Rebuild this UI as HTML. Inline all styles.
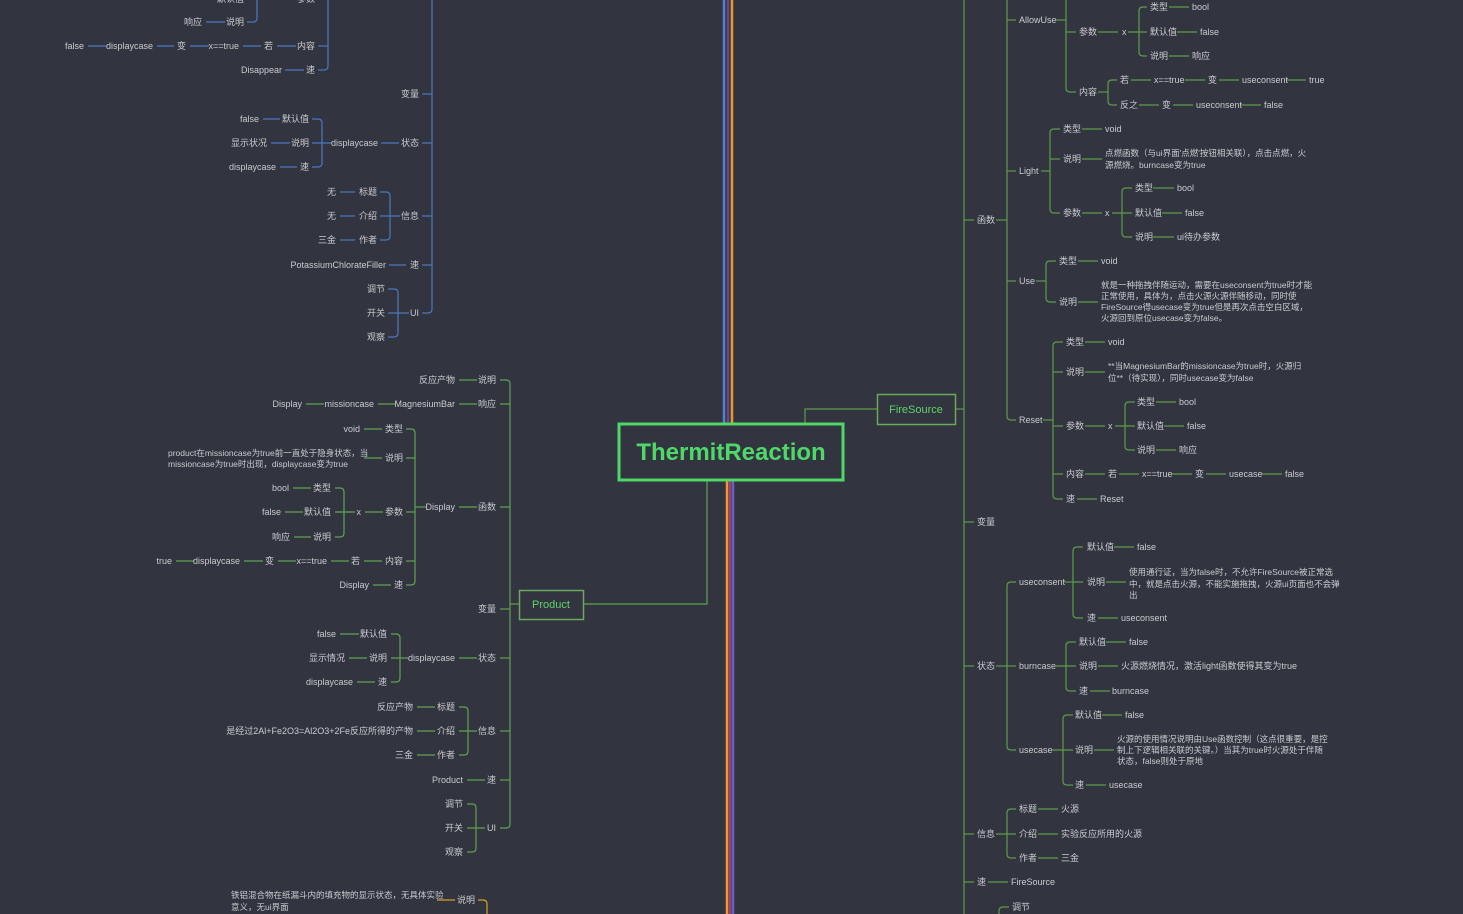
<!DOCTYPE html>
<html><head><meta charset="utf-8"><style>
html,body{margin:0;padding:0;background:#32353f;width:1463px;height:914px;overflow:hidden}
svg{display:block}
text{font-family:"Liberation Sans","Noto Sans CJK SC",sans-serif;font-size:9px;fill:#c9cbcf}
.e{text-anchor:end}
.b{fill:none;stroke:#4a78c0;stroke-width:1.2}
.g{fill:none;stroke:#5ea34f;stroke-width:1.2}
.r{fill:none;stroke:#5c9c48;stroke-width:1.2}
.o{fill:none;stroke:#d4a12a;stroke-width:1.2}
</style></head><body>
<svg width="1463" height="914" viewBox="0 0 1463 914" xmlns="http://www.w3.org/2000/svg">
<!-- center lines -->
<line x1="724" y1="0" x2="724" y2="423" stroke="#5b7fd0" stroke-width="2.5"/>
<line x1="728" y1="0" x2="728" y2="423" stroke="#5e4a90" stroke-width="2.5"/>
<line x1="732" y1="0" x2="732" y2="423" stroke="#f0962a" stroke-width="2.5"/>
<line x1="727" y1="480" x2="727" y2="914" stroke="#f0962a" stroke-width="2.5"/>
<line x1="730" y1="480" x2="730" y2="914" stroke="#9a3f7a" stroke-width="2.5"/>
<line x1="733" y1="480" x2="733" y2="914" stroke="#6a5fc8" stroke-width="2.5"/>

<!-- ===== BLUE (left top) ===== -->
<g class="b">
<path d="M257,-20 V18 Q257,22 253,22 H247"/>
<line x1="206" y1="22" x2="225" y2="22"/>
<path d="M328,-20 V66 Q328,70 324,70 H318"/>
<line x1="318" y1="46" x2="328" y2="46"/><line x1="318" y1="-1" x2="328" y2="-1"/>
<line x1="88" y1="46" x2="106" y2="46"/><line x1="157" y1="46" x2="174" y2="46"/><line x1="190" y1="46" x2="209" y2="46"/><line x1="243" y1="46" x2="261" y2="46"/><line x1="277" y1="46" x2="296" y2="46"/>
<line x1="285" y1="70" x2="304" y2="70"/>
<path d="M432,-20 V309 Q432,313 428,313 H422"/>
<line x1="422" y1="94" x2="432" y2="94"/><line x1="422" y1="143" x2="432" y2="143"/><line x1="422" y1="216" x2="432" y2="216"/><line x1="422" y1="265" x2="432" y2="265"/>
<path d="M312,119 H318 Q322,119 322,123 V163 Q322,167 318,167 H312"/>
<line x1="312" y1="143" x2="332" y2="143"/><line x1="381" y1="143" x2="399" y2="143"/>
<line x1="263" y1="119" x2="280" y2="119"/><line x1="271" y1="143" x2="290" y2="143"/><line x1="280" y1="167" x2="297" y2="167"/>
<path d="M380,192 H386 Q390,192 390,196 V236 Q390,240 386,240 H380"/>
<line x1="380" y1="216" x2="400" y2="216"/>
<line x1="340" y1="192" x2="355" y2="192"/><line x1="340" y1="216" x2="355" y2="216"/><line x1="340" y1="240" x2="355" y2="240"/>
<line x1="389" y1="265" x2="406" y2="265"/>
<path d="M388,289 H394 Q398,289 398,293 V333 Q398,337 394,337 H388"/>
<line x1="388" y1="313" x2="409" y2="313"/>
</g>
<text class="e" x="244" y="2">默认值</text><text class="e" x="315" y="2">参数</text>
<text class="e" x="202" y="25">响应</text><text class="e" x="244" y="25">说明</text>
<text class="e" x="84" y="49">false</text><text class="e" x="153" y="49">displaycase</text><text class="e" x="186" y="49">变</text><text class="e" x="239" y="49">x==true</text><text class="e" x="273" y="49">若</text><text class="e" x="315" y="49">内容</text>
<text class="e" x="282" y="73">Disappear</text><text class="e" x="315" y="73">速</text>
<text class="e" x="419" y="97">变量</text>
<text class="e" x="259" y="122">false</text><text class="e" x="309" y="122">默认值</text>
<text class="e" x="267" y="146">显示状况</text><text class="e" x="309" y="146">说明</text><text class="e" x="378" y="146">displaycase</text><text class="e" x="419" y="146">状态</text>
<text class="e" x="276" y="170">displaycase</text><text class="e" x="309" y="170">速</text>
<text class="e" x="336" y="195">无</text><text class="e" x="377" y="195">标题</text>
<text class="e" x="336" y="219">无</text><text class="e" x="377" y="219">介绍</text><text class="e" x="419" y="219">信息</text>
<text class="e" x="336" y="243">三金</text><text class="e" x="377" y="243">作者</text>
<text class="e" x="386" y="268">PotassiumChlorateFiller</text><text class="e" x="419" y="268">速</text>
<text class="e" x="385" y="292">调节</text><text class="e" x="385" y="316">开关</text><text class="e" x="419" y="316">UI</text><text class="e" x="385" y="340">观察</text>

<!-- ===== GREEN product ===== -->
<g class="g">
<path d="M500,380 H506 Q510,380 510,384 V824 Q510,828 506,828 H500"/>
<line x1="500" y1="404" x2="510" y2="404"/><line x1="500" y1="507" x2="510" y2="507"/><line x1="500" y1="609" x2="510" y2="609"/><line x1="500" y1="658" x2="510" y2="658"/><line x1="500" y1="731" x2="510" y2="731"/><line x1="500" y1="780" x2="510" y2="780"/>
<line x1="510" y1="604" x2="519" y2="604"/>
<path d="M583,604 H707 V481"/>
<line x1="459" y1="380" x2="477" y2="380"/>
<line x1="306" y1="404" x2="324" y2="404"/><line x1="378" y1="404" x2="396" y2="404"/><line x1="459" y1="404" x2="477" y2="404"/>
<line x1="459" y1="507" x2="477" y2="507"/><line x1="415" y1="507" x2="427" y2="507"/>
<path d="M406,429 H411 Q415,429 415,433 V581 Q415,585 411,585 H406"/>
<line x1="406" y1="458" x2="415" y2="458"/><line x1="406" y1="512" x2="415" y2="512"/><line x1="406" y1="561" x2="415" y2="561"/>
<line x1="364" y1="429" x2="382" y2="429"/><line x1="364" y1="458" x2="382" y2="458"/>
<path d="M335,488 H340 Q344,488 344,492 V533 Q344,537 340,537 H335"/>
<line x1="335" y1="512" x2="355" y2="512"/><line x1="365" y1="512" x2="383" y2="512"/>
<line x1="293" y1="488" x2="311" y2="488"/><line x1="285" y1="512" x2="303" y2="512"/><line x1="294" y1="537" x2="311" y2="537"/>
<line x1="176" y1="561" x2="194" y2="561"/><line x1="244" y1="561" x2="263" y2="561"/><line x1="278" y1="561" x2="296" y2="561"/><line x1="331" y1="561" x2="349" y2="561"/><line x1="364" y1="561" x2="382" y2="561"/>
<line x1="373" y1="585" x2="391" y2="585"/>
<path d="M391,634 H396 Q400,634 400,638 V678 Q400,682 396,682 H391"/>
<line x1="391" y1="658" x2="408" y2="658"/><line x1="459" y1="658" x2="477" y2="658"/>
<line x1="340" y1="634" x2="359" y2="634"/><line x1="349" y1="658" x2="367" y2="658"/><line x1="357" y1="682" x2="375" y2="682"/>
<path d="M459,707 H464 Q468,707 468,711 V751 Q468,755 464,755 H459"/>
<line x1="459" y1="731" x2="477" y2="731"/>
<line x1="417" y1="707" x2="435" y2="707"/><line x1="417" y1="731" x2="435" y2="731"/><line x1="417" y1="755" x2="435" y2="755"/>
<line x1="467" y1="780" x2="485" y2="780"/>
<path d="M467,804 H472 Q476,804 476,808 V848 Q476,852 472,852 H467"/>
<line x1="467" y1="828" x2="485" y2="828"/>
</g>
<text class="e" x="455" y="383">反应产物</text><text class="e" x="496" y="383">说明</text>
<text class="e" x="302" y="407">Display</text><text class="e" x="374" y="407">missioncase</text><text class="e" x="455" y="407">MagnesiumBar</text><text class="e" x="496" y="407">响应</text>
<text class="e" x="360" y="432">void</text><text class="e" x="403" y="432">类型</text>
<text x="168" y="456" style="font-size:8.5px">product在missioncase为true前一直处于隐身状态，当</text>
<text x="168" y="467" style="font-size:8.5px">missioncase为true时出现，displaycase变为true</text>
<text class="e" x="403" y="461">说明</text>
<text class="e" x="289" y="491">bool</text><text class="e" x="331" y="491">类型</text>
<text class="e" x="281" y="515">false</text><text class="e" x="331" y="515">默认值</text><text class="e" x="361" y="515">x</text><text class="e" x="403" y="515">参数</text>
<text class="e" x="455" y="510">Display</text><text class="e" x="496" y="510">函数</text>
<text class="e" x="290" y="540">响应</text><text class="e" x="331" y="540">说明</text>
<text class="e" x="172" y="564">true</text><text class="e" x="240" y="564">displaycase</text><text class="e" x="274" y="564">变</text><text class="e" x="327" y="564">x==true</text><text class="e" x="360" y="564">若</text><text class="e" x="403" y="564">内容</text>
<text class="e" x="369" y="588">Display</text><text class="e" x="403" y="588">速</text>
<text class="e" x="496" y="612">变量</text>
<text class="e" x="336" y="637">false</text><text class="e" x="387" y="637">默认值</text>
<text class="e" x="345" y="661">显示情况</text><text class="e" x="387" y="661">说明</text><text class="e" x="455" y="661">displaycase</text><text class="e" x="496" y="661">状态</text>
<text class="e" x="353" y="685">displaycase</text><text class="e" x="387" y="685">速</text>
<text class="e" x="413" y="710">反应产物</text><text class="e" x="455" y="710">标题</text>
<text class="e" x="413" y="734">是经过2Al+Fe2O3=Al2O3+2Fe反应所得的产物</text><text class="e" x="455" y="734">介绍</text><text class="e" x="496" y="734">信息</text>
<text class="e" x="413" y="758">三金</text><text class="e" x="455" y="758">作者</text>
<text class="e" x="463" y="783">Product</text><text class="e" x="496" y="783">速</text>
<text class="e" x="463" y="807">调节</text><text class="e" x="463" y="831">开关</text><text class="e" x="496" y="831">UI</text><text class="e" x="463" y="855">观察</text>

<!-- orange -->
<g class="o"><line x1="437" y1="900" x2="455" y2="900"/><path d="M478,900 H483 Q487,900 487,904 V920"/></g>
<text x="231" y="898" style="font-size:8.5px">铁铝混合物在纸漏斗内的填充物的显示状态，无具体实验</text>
<text x="231" y="910" style="font-size:8.5px">意义，无ui界面</text>
<text class="e" x="475" y="903">说明</text>

<!-- ===== RIGHT green ===== -->
<g class="r">
<path d="M805,423 V409 H877"/>
<line x1="955" y1="409" x2="964" y2="409"/>
<line x1="964" y1="-10" x2="964" y2="920"/>
<line x1="964" y1="220" x2="974" y2="220"/><line x1="964" y1="522" x2="974" y2="522"/><line x1="964" y1="666" x2="974" y2="666"/><line x1="964" y1="834" x2="974" y2="834"/><line x1="964" y1="882" x2="974" y2="882"/>
<line x1="996" y1="220" x2="1007" y2="220"/>
<path d="M1007,-20 V416 Q1007,420 1011,420 H1016"/>
<line x1="1007" y1="20" x2="1016" y2="20"/><line x1="1007" y1="171" x2="1016" y2="171"/><line x1="1007" y1="281" x2="1016" y2="281"/>
<line x1="1056" y1="20" x2="1066" y2="20"/>
<path d="M1066,-20 V88 Q1066,92 1070,92 H1076"/>
<line x1="1066" y1="32" x2="1076" y2="32"/>
<line x1="1098" y1="32" x2="1118" y2="32"/><line x1="1128" y1="32" x2="1147" y2="32"/>
<path d="M1147,7 H1143 Q1139,7 1139,11 V52 Q1139,56 1143,56 H1147"/>
<line x1="1169" y1="7" x2="1189" y2="7"/><line x1="1177" y1="32" x2="1197" y2="32"/><line x1="1169" y1="56" x2="1189" y2="56"/>
<line x1="1098" y1="92" x2="1108" y2="92"/>
<path d="M1117,80 H1112 Q1108,80 1108,84 V101 Q1108,105 1112,105 H1117"/>
<line x1="1131" y1="80" x2="1151" y2="80"/><line x1="1185" y1="80" x2="1205" y2="80"/><line x1="1219" y1="80" x2="1239" y2="80"/><line x1="1286" y1="80" x2="1306" y2="80"/>
<line x1="1139" y1="105" x2="1159" y2="105"/><line x1="1173" y1="105" x2="1193" y2="105"/><line x1="1240" y1="105" x2="1261" y2="105"/>
<line x1="1041" y1="171" x2="1050" y2="171"/>
<path d="M1060,129 H1054 Q1050,129 1050,133 V209 Q1050,213 1054,213 H1060"/>
<line x1="1050" y1="159" x2="1060" y2="159"/>
<line x1="1082" y1="129" x2="1102" y2="129"/><line x1="1082" y1="159" x2="1102" y2="159"/><line x1="1082" y1="213" x2="1102" y2="213"/>
<line x1="1112" y1="213" x2="1132" y2="213"/>
<path d="M1132,188 H1126 Q1122,188 1122,192 V233 Q1122,237 1126,237 H1132"/>
<line x1="1153" y1="188" x2="1174" y2="188"/><line x1="1162" y1="213" x2="1182" y2="213"/><line x1="1153" y1="237" x2="1174" y2="237"/>
<line x1="1036" y1="281" x2="1046" y2="281"/>
<path d="M1056,261 H1050 Q1046,261 1046,265 V298 Q1046,302 1050,302 H1056"/>
<line x1="1078" y1="261" x2="1098" y2="261"/><line x1="1078" y1="302" x2="1098" y2="302"/>
<line x1="1043" y1="420" x2="1053" y2="420"/>
<path d="M1063,342 H1057 Q1053,342 1053,346 V495 Q1053,499 1057,499 H1063"/>
<line x1="1053" y1="372" x2="1063" y2="372"/><line x1="1053" y1="426" x2="1063" y2="426"/><line x1="1053" y1="474" x2="1063" y2="474"/>
<line x1="1085" y1="342" x2="1105" y2="342"/><line x1="1085" y1="372" x2="1105" y2="372"/><line x1="1085" y1="426" x2="1105" y2="426"/>
<line x1="1115" y1="426" x2="1135" y2="426"/>
<path d="M1135,402 H1129 Q1125,402 1125,406 V446 Q1125,450 1129,450 H1135"/>
<line x1="1156" y1="402" x2="1176" y2="402"/><line x1="1164" y1="426" x2="1184" y2="426"/><line x1="1156" y1="450" x2="1176" y2="450"/>
<line x1="1085" y1="474" x2="1105" y2="474"/><line x1="1119" y1="474" x2="1139" y2="474"/><line x1="1172" y1="474" x2="1192" y2="474"/><line x1="1206" y1="474" x2="1226" y2="474"/><line x1="1262" y1="474" x2="1282" y2="474"/>
<line x1="1077" y1="499" x2="1097" y2="499"/>
<line x1="996" y1="666" x2="1007" y2="666"/>
<path d="M1016,582 H1011 Q1007,582 1007,586 V746 Q1007,750 1011,750 H1016"/>
<line x1="1007" y1="666" x2="1016" y2="666"/>
<line x1="1064" y1="582" x2="1073" y2="582"/>
<path d="M1083,547 H1077 Q1073,547 1073,551 V614 Q1073,618 1077,618 H1083"/>
<line x1="1073" y1="582" x2="1083" y2="582"/>
<line x1="1114" y1="547" x2="1134" y2="547"/><line x1="1106" y1="582" x2="1126" y2="582"/><line x1="1098" y1="618" x2="1118" y2="618"/>
<line x1="1056" y1="666" x2="1076" y2="666"/>
<path d="M1076,642 H1070 Q1066,642 1066,646 V687 Q1066,691 1070,691 H1076"/>
<line x1="1106" y1="642" x2="1126" y2="642"/><line x1="1098" y1="666" x2="1118" y2="666"/><line x1="1090" y1="691" x2="1110" y2="691"/>
<line x1="1052" y1="750" x2="1073" y2="750"/>
<path d="M1073,715 H1067 Q1063,715 1063,719 V781 Q1063,785 1067,785 H1073"/>
<line x1="1102" y1="715" x2="1122" y2="715"/><line x1="1094" y1="750" x2="1114" y2="750"/><line x1="1086" y1="785" x2="1106" y2="785"/>
<line x1="996" y1="834" x2="1016" y2="834"/>
<path d="M1016,809 H1011 Q1007,809 1007,813 V854 Q1007,858 1011,858 H1016"/>
<line x1="1038" y1="809" x2="1058" y2="809"/><line x1="1038" y1="834" x2="1058" y2="834"/><line x1="1038" y1="858" x2="1058" y2="858"/>
<line x1="988" y1="882" x2="1008" y2="882"/>
<path d="M1009,907 H1003 Q999,907 999,911 V920"/>
</g>
<text x="1019" y="23">AllowUse</text>
<text x="1079" y="35">参数</text><text x="1122" y="35">x</text>
<text x="1150" y="10">类型</text><text x="1192" y="10">bool</text>
<text x="1150" y="35">默认值</text><text x="1200" y="35">false</text>
<text x="1150" y="59">说明</text><text x="1192" y="59">响应</text>
<text x="1079" y="95">内容</text>
<text x="1120" y="83">若</text><text x="1154" y="83">x==true</text><text x="1208" y="83">变</text><text x="1242" y="83">useconsent</text><text x="1309" y="83">true</text>
<text x="1120" y="108">反之</text><text x="1162" y="108">变</text><text x="1196" y="108">useconsent</text><text x="1264" y="108">false</text>
<text x="1019" y="174">Light</text>
<text x="1063" y="132">类型</text><text x="1105" y="132">void</text>
<text x="1063" y="162">说明</text>
<text x="1105" y="156" style="font-size:8.5px">点燃函数（与ui界面'点燃'按钮相关联），点击点燃，火</text>
<text x="1105" y="168" style="font-size:8.5px">源燃烧。burncase变为true</text>
<text x="1063" y="216">参数</text><text x="1105" y="216">x</text>
<text x="1135" y="191">类型</text><text x="1177" y="191">bool</text>
<text x="1135" y="216">默认值</text><text x="1185" y="216">false</text>
<text x="1135" y="240">说明</text><text x="1177" y="240">ui待办参数</text>
<text x="977" y="223">函数</text>
<text x="1019" y="284">Use</text>
<text x="1059" y="264">类型</text><text x="1101" y="264">void</text>
<text x="1059" y="305">说明</text>
<text x="1101" y="288" style="font-size:8.5px">就是一种拖拽伴随运动，需要在useconsent为true时才能</text>
<text x="1101" y="299" style="font-size:8.5px">正常使用，具体为，点击火源火源伴随移动，同时使</text>
<text x="1101" y="310" style="font-size:8.5px">FireSource得usecase变为true但是再次点击空白区域，</text>
<text x="1101" y="321" style="font-size:8.5px">火源回到原位usecase变为false。</text>
<text x="1066" y="345">类型</text><text x="1108" y="345">void</text>
<text x="1066" y="375">说明</text>
<text x="1108" y="369" style="font-size:8.5px">**当MagnesiumBar的missioncase为true时，火源归</text>
<text x="1108" y="381" style="font-size:8.5px">位**（待实现），同时usecase变为false</text>
<text x="1019" y="423">Reset</text>
<text x="1066" y="429">参数</text><text x="1108" y="429">x</text>
<text x="1137" y="405">类型</text><text x="1179" y="405">bool</text>
<text x="1137" y="429">默认值</text><text x="1187" y="429">false</text>
<text x="1137" y="453">说明</text><text x="1179" y="453">响应</text>
<text x="1066" y="477">内容</text><text x="1108" y="477">若</text><text x="1142" y="477">x==true</text><text x="1195" y="477">变</text><text x="1229" y="477">usecase</text><text x="1285" y="477">false</text>
<text x="1066" y="502">速</text><text x="1100" y="502">Reset</text>
<text x="977" y="525">变量</text>
<text x="1087" y="550">默认值</text><text x="1137" y="550">false</text>
<text x="1019" y="585">useconsent</text><text x="1087" y="585">说明</text>
<text x="1129" y="575" style="font-size:8.5px">使用通行证，当为false时，不允许FireSource被正常选</text>
<text x="1129" y="587" style="font-size:8.5px">中，就是点击火源，不能实施拖拽，火源ui页面也不会弹</text>
<text x="1129" y="598" style="font-size:8.5px">出</text>
<text x="1087" y="621">速</text><text x="1121" y="621">useconsent</text>
<text x="1079" y="645">默认值</text><text x="1129" y="645">false</text>
<text x="977" y="669">状态</text><text x="1019" y="669">burncase</text><text x="1079" y="669">说明</text><text x="1121" y="669">火源燃烧情况，激活light函数使得其变为true</text>
<text x="1079" y="694">速</text><text x="1112" y="694">burncase</text>
<text x="1075" y="718">默认值</text><text x="1125" y="718">false</text>
<text x="1019" y="753">usecase</text><text x="1075" y="753">说明</text>
<text x="1117" y="742" style="font-size:8.5px">火源的使用情况说明由Use函数控制（这点很重要，是控</text>
<text x="1117" y="753" style="font-size:8.5px">制上下逻辑相关联的关键。）当其为true时火源处于伴随</text>
<text x="1117" y="764" style="font-size:8.5px">状态，false则处于原地</text>
<text x="1075" y="788">速</text><text x="1109" y="788">usecase</text>
<text x="1019" y="812">标题</text><text x="1061" y="812">火源</text>
<text x="977" y="837">信息</text><text x="1019" y="837">介绍</text><text x="1061" y="837">实验反应所用的火源</text>
<text x="1019" y="861">作者</text><text x="1061" y="861">三金</text>
<text x="977" y="885">速</text><text x="1011" y="885">FireSource</text>
<text x="1012" y="910">调节</text>

<!-- nodes -->
<rect x="877.5" y="394.5" width="78" height="30" fill="#32353f" stroke="#6aa85a" stroke-width="1.5"/>
<text x="916" y="413" style="font-size:11px;fill:#5fd46a;text-anchor:middle">FireSource</text>
<rect x="519.5" y="590.5" width="64" height="29" fill="#32353f" stroke="#6aa85a" stroke-width="1.5"/>
<text x="551" y="608" style="font-size:11px;fill:#5fd46a;text-anchor:middle">Product</text>
<rect x="619" y="424" width="224" height="56" fill="#32353f" stroke="#4fd76a" stroke-width="3"/>
<text x="731" y="460" style="font-size:24px;font-weight:bold;fill:#4fd76a;text-anchor:middle">ThermitReaction</text>
</svg>
</body></html>
